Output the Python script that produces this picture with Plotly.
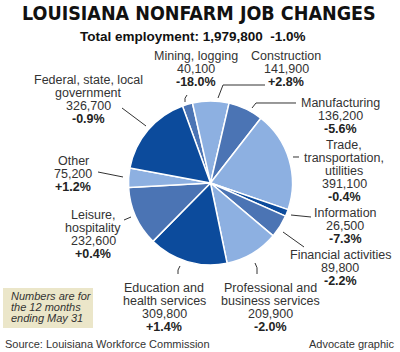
import plotly.graph_objects as go

# ---- data ----
categories = ["Mining, logging", "Construction", "Manufacturing",
              "Trade, transportation, utilities", "Information",
              "Financial activities", "Professional and business services",
              "Education and health services", "Leisure, hospitality",
              "Other", "Federal, state, local government"]
employment = [40100, 141900, 136200, 391100, 26500, 89800,
              209900, 309800, 232600, 75200, 326700]
pct_change = [-18.0, 2.8, -5.6, -0.4, -7.3, -2.2, -2.0, 1.4, 0.4, 1.2, -0.9]
name_lines = [["Mining, logging"], ["Construction"], ["Manufacturing"],
              ["Trade,", "transportation,", "utilities"], ["Information"],
              ["Financial activities"], ["Professional and", "business services"],
              ["Education and", "health services"], ["Leisure,", "hospitality"],
              ["Other"], ["Federal, state, local", "government"]]
total_employment = "1,979,800"
total_change = "-1.0%"

# ---- styling ----
W, H = 400, 352
DARK, MED, LIGHT = "#0c4b9c", "#4b74b4", "#8db0e1"
slice_colors = [MED, LIGHT, MED, LIGHT, DARK, MED, LIGHT, DARK, MED, LIGHT, DARK]
cx, cy, R = 210.5, 183, 82
FONT = "Liberation Sans, Arial, sans-serif"

def px(x):
    return x / W

def py(y):
    return 1 - y / H

fig = go.Figure(go.Pie(
    labels=categories, values=employment, sort=False, direction="clockwise",
    rotation=-20, textinfo="none", hoverinfo="label+value",
    marker=dict(colors=slice_colors, line=dict(color="white", width=1.5)),
    domain=dict(x=[px(cx - R), px(cx + R)], y=[py(cy + R), py(cy - R)]),
    showlegend=False,
))

annotations = []
shapes = []

def add_text(x, y, text, size=12.5, color="#333333", bold=False, italic=False,
             anchor="center", family=FONT):
    if bold:
        text = f"<b>{text}</b>"
    if italic:
        text = f"<i>{text}</i>"
    annotations.append(dict(x=px(x), y=py(y), xref="paper", yref="paper",
                            text=text, showarrow=False, xanchor=anchor,
                            yanchor="middle",
                            font=dict(size=size, color=color, family=family)))

# label placement (center x, first line y)
label_pos = [(196, 56), (286, 56), (340, 103), (344, 145), (345, 213),
             (340, 255), (270, 288), (164, 288), (93, 215), (73, 161), (88, 80)]
LS = 13
for i, (lx, ly) in enumerate(label_pos):
    lines = name_lines[i] + [f"{employment[i]:,}"]
    for j, t in enumerate(lines):
        add_text(lx, ly + j * LS, t)
    add_text(lx, ly + len(lines) * LS, f"{pct_change[i]:+.1f}%", bold=True, color="#222222")

# leader lines (pixel paths)
leaders = ["M185,102 Q184,98 187,95", "M218,98 L223,85 L265,85",
           "M252,108 L256,103 L296,103", "M293,157 L299,157",
           "M291,215 L311,217", "M283,232 L304,247",
           "M255,263 Q258,267 257,274", "M180,266 Q177,270 178,274",
           "M131,217 L124,220", "M98,172 L123,177", "M122,108 L146,126"]

def conv(p):
    toks = p.replace("M", " M ").replace("L", " L ").replace("Q", " Q ").split()
    res = []
    for t in toks:
        if t in ("M", "L", "Q"):
            res.append(t)
        else:
            x, y = t.split(",")
            res.append(f"{float(x) / W:.5f},{1 - float(y) / H:.5f}")
    return " ".join(res)

for p in leaders:
    shapes.append(dict(type="path", path=conv(p), xref="paper", yref="paper",
                       line=dict(color="#333333", width=1)))

# title and subtitle
add_text(198.5, 13.5, "LOUISIANA NONFARM JOB CHANGES", size=19.5, color="#111111",
         bold=True, family="DejaVu Sans Condensed")
add_text(192.5, 36, f"Total employment: {total_employment}  {total_change}", size=13.5,
         color="#111111", bold=True)

# note box
shapes.append(dict(type="rect", xref="paper", yref="paper", x0=px(3), x1=px(93),
                   y0=py(328), y1=py(288), fillcolor="#ebe6c9", line=dict(width=0),
                   layer="below"))
for j, t in enumerate(["Numbers are for", "the 12 months", "ending May 31"]):
    add_text(9, 296 + j * 11, t, size=11, italic=True, anchor="left", color="#333333")

# source / credit
add_text(3, 344, "Source: Louisiana Workforce Commission", size=11, anchor="left", color="#333333")
add_text(396, 344, "Advocate graphic", size=11, anchor="right", color="#333333")

fig.update_layout(width=W, height=H, margin=dict(l=0, r=0, t=0, b=0),
                  paper_bgcolor="white", plot_bgcolor="white",
                  annotations=annotations, shapes=shapes)
fig.write_html("out.html")
